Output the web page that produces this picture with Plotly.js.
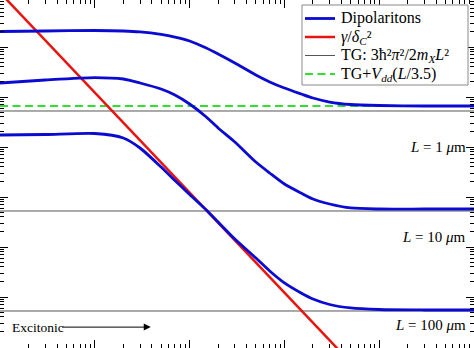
<!DOCTYPE html>
<html>
<head>
<meta charset="utf-8">
<script src="https://cdn.plot.ly/plotly-3.0.1.min.js"></script>
<style>html,body{margin:0;padding:0;background:#fff}#chart{width:474px;height:348px}</style>
</head>
<body>
<div id="chart"></div>
<script>
// detuning axis (log) values
const detuning = [0.01, 0.03, 0.1, 0.2, 0.3, 0.5, 0.7, 1, 1.5, 2, 3, 5, 7, 10, 15, 20, 30, 50, 100, 300, 1000];
// dipolariton curves for L = 1, 10, 100 um
const dipL1   = [204, 209, 214, 209, 200, 178, 158, 132, 95.5, 72.4, 47.9, 27.5, 20.0, 15.1, 11.5, 9.55, 7.94, 7.08, 6.76, 6.61, 6.61];
const dipL10  = [19.05, 21.9, 24.5, 22.9, 19.05, 14.45, 10.96, 7.24, 3.98, 2.40, 1.26, 0.501, 0.302, 0.182, 0.120, 0.0912, 0.0724, 0.0603, 0.0575, 0.0575, 0.0575];
const dipL100 = [1.738, 1.778, 1.862, 1.514, 0.955, 0.398, 0.214, 0.112, 0.0550, 0.0316, 0.01445, 0.00603, 0.00331, 0.00191, 0.00120, 0.000912, 0.000708, 0.000603, 0.000562, 0.000550, 0.000550];
// gamma / delta_C^2 line
const gammaX = [0.01, 100];
const gammaY = [1225, 0.00001225];
// Tonks-Girardeau levels
const tgX = [0.01, 1000];
const tgL1 = 5.25, tgL10 = 0.0525, tgL100 = 0.000525;
const tgVdd = 6.61;
const labels = ['<i>L</i> = 1 <i>μ</i>m', '<i>L</i> = 10 <i>μ</i>m', '<i>L</i> = 100 <i>μ</i>m'];
const labelY = [1.0, 0.0158, 0.000275];
// legend entries
const legendNames = [
  'Dipolaritons',
  '<i>γ</i>/<i>δ</i><sub><i>C</i></sub>²',
  'TG: 3ħ²<i>π</i>²/2<i>m</i><sub><i>X</i></sub><i>L</i>²',
  'TG+<i>V</i><sub><i>dd</i></sub>(<i>L</i>/3.5)'
];

const SERIF = 'Liberation Serif, Times New Roman, serif';
const blue = '#0a0ad2', red = '#e8140f', gray = '#555555', green = '#2fe02f';
const styles = [
  {color: blue, width: 2.8},
  {color: red, width: 2.5},
  {color: gray, width: 1},
  {color: green, width: 2, dash: '8px,4.5px'}
];
const curveLine = Object.assign({}, styles[0], {shape: 'spline', smoothing: 0.7});
const data = [
  {x: tgX, y: [tgL1, tgL1], mode: 'lines', line: styles[2], name: 'TG L=1'},
  {x: tgX, y: [tgL10, tgL10], mode: 'lines', line: styles[2], name: 'TG L=10'},
  {x: tgX, y: [tgL100, tgL100], mode: 'lines', line: styles[2], name: 'TG L=100'},
  {x: tgX, y: [tgVdd, tgVdd], mode: 'lines', line: styles[3], name: 'TG+Vdd'},
  {x: gammaX, y: gammaY, mode: 'lines', line: styles[1], name: 'gamma/delta^2'},
  {x: detuning, y: dipL1, mode: 'lines', line: curveLine, name: 'Dipolaritons L=1'},
  {x: detuning, y: dipL10, mode: 'lines', line: curveLine, name: 'Dipolaritons L=10'},
  {x: detuning, y: dipL100, mode: 'lines', line: curveLine, name: 'Dipolaritons L=100'}
];

const W = 474, H = 348;
const px = v => v / W, py = v => 1 - v / H;
// legend box (drawn as shapes + text annotations)
const box = {x0: 302, x1: 468, y0: 5, y1: 85, rowTop: 18.5, rowStep: 18.5, sample0: 305, sample1: 335, text0: 339};
const shapes = [
  {type: 'rect', xref: 'paper', yref: 'paper', x0: px(box.x0), x1: px(box.x1), y0: py(box.y1), y1: py(box.y0),
   fillcolor: '#fff', line: {color: '#888', width: 1}, layer: 'above'}
];
const legendAnn = [];
legendNames.forEach((n, i) => {
  const yy = py(box.rowTop + i * box.rowStep);
  shapes.push({type: 'line', xref: 'paper', yref: 'paper', x0: px(box.sample0), x1: px(box.sample1), y0: yy, y1: yy,
    line: styles[i], layer: 'above'});
  legendAnn.push({x: px(box.text0), y: yy, xref: 'paper', yref: 'paper', text: n, showarrow: false,
    xanchor: 'left', yanchor: 'middle', font: {size: 16, family: SERIF}});
});

const axisCommon = {
  type: 'log', showgrid: false, zeroline: false, showline: false,
  ticks: 'inside', ticklen: 8, tickcolor: '#000', tickwidth: 1,
  mirror: 'allticks', showticklabels: false, dtick: 1,
  minor: {ticks: 'inside', ticklen: 4, tickcolor: '#000', dtick: 'D1', showgrid: false}
};
const layout = {
  width: W, height: H,
  margin: {l: 0, r: 0, t: 0, b: 0},
  paper_bgcolor: '#fff', plot_bgcolor: '#fff',
  font: {family: SERIF, color: '#000'},
  xaxis: Object.assign({}, axisCommon, {range: [-2, 3]}),
  yaxis: Object.assign({}, axisCommon, {range: [-4.02, 2.94]}),
  showlegend: false,
  shapes: shapes,
  annotations: [
    ...legendAnn,
    ...labels.map((t, i) => ({
      x: 3, y: Math.log10(labelY[i]), xref: 'x', yref: 'y', text: t,
      showarrow: false, xanchor: 'right', xshift: -6,
      font: {size: 15, family: SERIF}
    })),
    {x: 0.022, y: 0.06, xref: 'paper', yref: 'paper', text: 'Excitonic', showarrow: false,
     xanchor: 'left', yanchor: 'middle', font: {size: 13.5, family: SERIF}},
    {x: 0.318, y: 0.06, ax: 0.128, ay: 0.06, xref: 'paper', yref: 'paper', axref: 'paper', ayref: 'paper',
     text: '', showarrow: true, arrowhead: 2, arrowsize: 1.4, arrowwidth: 1, arrowcolor: '#000', standoff: 0, startstandoff: 0}
  ]
};
Plotly.newPlot('chart', data, layout, {displayModeBar: false, staticPlot: true});
</script>
</body>
</html>
